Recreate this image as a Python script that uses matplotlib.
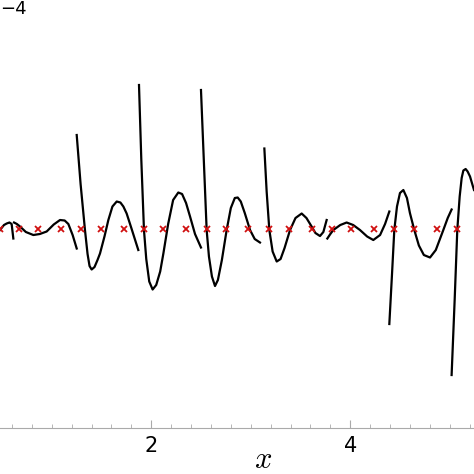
import numpy as np
import matplotlib
matplotlib.use('Agg')
import matplotlib.pyplot as plt

plt.rcParams['mathtext.fontset'] = 'cm'

# error curve pieces (units of 1e-4)
segments = [
    ([0.48, 0.52, 0.547, 0.575, 0.597, 0.614], [-0.02, 0.08, 0.11, 0.13, 0.10, -0.19]),
    ([0.621, 0.65, 0.681, 0.74, 0.815, 0.88, 0.949, 1.02, 1.083, 1.13, 1.167, 1.21, 1.251],
     [0.13, 0.10, 0.05, -0.06, -0.12, -0.10, -0.05, 0.09, 0.18, 0.17, 0.10, -0.12, -0.39]),
    ([1.251, 1.29, 1.334, 1.36, 1.38, 1.401, 1.43, 1.46, 1.485, 1.53, 1.569, 1.61, 1.653, 1.69, 1.72, 1.753, 1.80, 1.870],
     [1.88, 0.90, -0.02, -0.50, -0.74, -0.81, -0.76, -0.62, -0.49, -0.15, 0.18, 0.45, 0.55, 0.53, 0.45, 0.31, 0.02, -0.42]),
    ([1.877, 1.90, 1.927, 1.95, 1.98, 2.014, 2.05, 2.09, 2.122, 2.17, 2.22, 2.272, 2.31, 2.35, 2.390, 2.44, 2.500],
     [2.88, 1.40, -0.02, -0.60, -1.05, -1.21, -1.12, -0.85, -0.49, 0.10, 0.58, 0.73, 0.70, 0.52, 0.25, -0.10, -0.37]),
    ([2.500, 2.53, 2.557, 2.58, 2.61, 2.641, 2.67, 2.71, 2.758, 2.80, 2.84, 2.869, 2.90, 2.94, 2.993, 3.04, 3.093],
     [2.78, 1.30, -0.02, -0.55, -0.95, -1.14, -1.02, -0.62, -0.02, 0.42, 0.62, 0.63, 0.55, 0.32, -0.02, -0.20, -0.27]),
    ([3.137, 3.16, 3.187, 3.22, 3.261, 3.30, 3.34, 3.395, 3.45, 3.512, 3.56, 3.612, 3.65, 3.696, 3.73, 3.763],
     [1.61, 0.75, -0.02, -0.45, -0.65, -0.60, -0.38, -0.02, 0.22, 0.31, 0.22, 0.05, -0.08, -0.14, -0.06, 0.18]),
    ([3.770, 3.80, 3.830, 3.90, 3.964, 4.03, 4.098, 4.17, 4.232, 4.30, 4.35, 4.393],
     [-0.19, -0.10, -0.02, 0.08, 0.13, 0.08, -0.02, -0.15, -0.22, -0.12, 0.10, 0.35]),
    ([4.393, 4.42, 4.443, 4.47, 4.50, 4.534, 4.57, 4.60, 4.644, 4.69, 4.74, 4.802, 4.86, 4.93, 4.98, 5.019],
     [-1.90, -0.90, -0.02, 0.45, 0.72, 0.78, 0.62, 0.32, -0.02, -0.33, -0.52, -0.57, -0.42, -0.05, 0.22, 0.39]),
    ([5.019, 5.05, 5.076, 5.10, 5.12, 5.137, 5.16, 5.18, 5.204, 5.244],
     [-2.92, -1.40, -0.02, 0.65, 1.02, 1.17, 1.20, 1.15, 1.05, 0.78]),
]

# zeros (nodes) marked in red
nodes = [0.48, 0.674, 0.865, 1.090, 1.294, 1.498, 1.723, 1.927, 2.122, 2.349, 2.557, 2.751,
         2.976, 3.187, 3.388, 3.612, 3.813, 4.008, 4.239, 4.443, 4.644, 4.868, 5.076]

fig = plt.figure(figsize=(4.74, 4.74), dpi=100)
ax = fig.add_axes([0, 0.097, 1, 0.903])

for xs, ys in segments:
    ax.plot(xs, ys, color='black', lw=1.6, solid_joinstyle='round')
ax.plot(nodes, np.zeros(len(nodes)), 'x', color='#d01010', ms=5, mew=1.3)

ax.set_xlim(0.48, 5.244)
ax.set_ylim(-3.98, 4.58)
for s in ['top', 'right', 'left']:
    ax.spines[s].set_visible(False)
ax.spines['bottom'].set_color('#aaaaaa')
ax.set_yticks([])
ax.set_xticks([2, 4])
ax.set_xticks(np.arange(0.6, 5.3, 0.2), minor=True)
ax.tick_params(axis='x', which='major', direction='in', length=6, color='#aaaaaa', labelsize=15, pad=6)
ax.tick_params(axis='x', which='minor', direction='in', length=3, color='#aaaaaa')

fig.text(0.555, 0.0, r'$x$', fontsize=22, ha='center', va='bottom')
fig.text(0.0, 1.0, '\u22124', fontsize=13, ha='left', va='top')

fig.savefig('out.png', dpi=100)
